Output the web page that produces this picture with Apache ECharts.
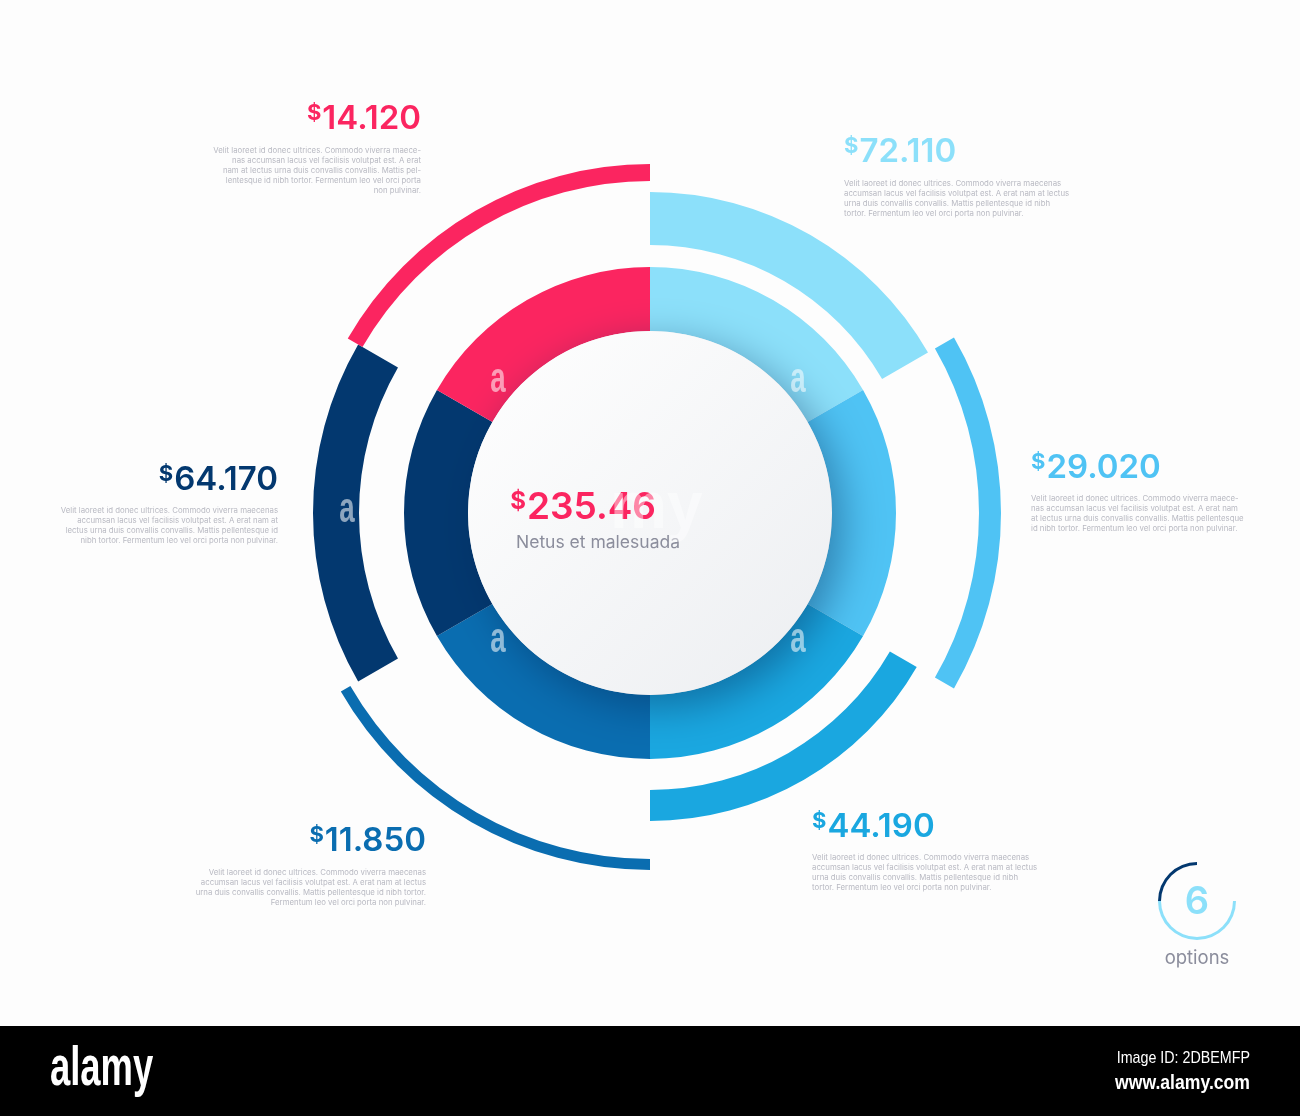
<!DOCTYPE html>
<html>
<head>
<meta charset="utf-8">
<title>Pie infographic</title>
<script src="https://cdn.jsdelivr.net/npm/echarts@6/dist/echarts.min.js"></script>
<style>
  html, body { margin: 0; padding: 0; background: #fdfdfd; }
  #chart { width: 1300px; height: 1116px; }
</style>
</head>
<body>
<div id="chart"></div>
<script>
// clockwise from twelve o'clock
const SLICE_AMOUNTS = ["72.110", "29.020", "44.190", "11.850", "64.170", "14.120"];
const SLICE_SPANS = [60, 60, 60, 60, 60, 60];
const SLICE_COLORS = ["#8ce0fa", "#4fc3f4", "#1aa7e0", "#0a6db0", "#03386f", "#fb2560"];
const ARC_RADII = [[268, 321], [329, 351], [277, 308], [346, 357], [291, 337], [332, 349]];

const TOTAL_AMOUNT = "235.46";
const TOTAL_LABEL = "Netus et malesuada";
const OPTION_COUNT = "6";
const OPTION_LABEL = "options";
const OPTION_RING_SPANS = [90, 180, 90];
const OPTION_RING_COLORS = ["transparent", "#8ce0fa", "#03386f"];

const NOTE_72 = [
  "Velit laoreet id donec ultrices. Commodo viverra maecenas",
  "accumsan lacus vel facilisis volutpat est. A erat nam at lectus",
  "urna duis convallis convallis. Mattis pellentesque id nibh",
  "tortor. Fermentum leo vel orci porta non pulvinar."
];
const NOTE_29 = [
  "Velit laoreet id donec ultrices. Commodo viverra maece-",
  "nas accumsan lacus vel facilisis volutpat est. A erat nam",
  "at lectus urna duis convallis convallis. Mattis pellentesque",
  "id nibh tortor. Fermentum leo vel orci porta non pulvinar."
];
const NOTE_44 = [
  "Velit laoreet id donec ultrices. Commodo viverra maecenas",
  "accumsan lacus vel facilisis volutpat est. A erat nam at lectus",
  "urna duis convallis convallis. Mattis pellentesque id nibh",
  "tortor. Fermentum leo vel orci porta non pulvinar."
];
const NOTE_11 = [
  "Velit laoreet id donec ultrices. Commodo viverra maecenas",
  "accumsan lacus vel facilisis volutpat est. A erat nam at lectus",
  "urna duis convallis convallis. Mattis pellentesque id nibh tortor.",
  "Fermentum leo vel orci porta non pulvinar."
];
const NOTE_64 = [
  "Velit laoreet id donec ultrices. Commodo viverra maecenas",
  "accumsan lacus vel facilisis volutpat est. A erat nam at",
  "lectus urna duis convallis convallis. Mattis pellentesque id",
  "nibh tortor. Fermentum leo vel orci porta non pulvinar."
];
const NOTE_14 = [
  "Velit laoreet id donec ultrices. Commodo viverra maece-",
  "nas accumsan lacus vel facilisis volutpat est. A erat",
  "nam at lectus urna duis convallis convallis. Mattis pel-",
  "lentesque id nibh tortor. Fermentum leo vel orci porta",
  "non pulvinar."
];
const SLICE_NOTES = [NOTE_72, NOTE_29, NOTE_44, NOTE_11, NOTE_64, NOTE_14];

const CENTER = [650, 513];
const FONT = "Inter, Roboto, sans-serif";
const LOGO_FONT = "'Liberation Sans', sans-serif";
const NOTE_COLOR = "#b8b9c2";
const NOTE_LEADING = 9.8;

// x, y of the amount text and y of the first note line, same order as the slices
const CALLOUTS = [
  { x: 844, y: 152, noteY: 184, align: "left" },
  { x: 1031, y: 468, noteY: 499, align: "left" },
  { x: 812, y: 827, noteY: 858, align: "left" },
  { x: 426, y: 841, noteY: 873, align: "right" },
  { x: 278, y: 480, noteY: 511, align: "right" },
  { x: 421, y: 119, noteY: 151, align: "right" }
];

function baseSlices(spans) {
  return spans.map((span, i) => ({ value: span, name: "slice" + i }));
}

function pieSeries(radius, center, data, extra) {
  return Object.assign({
    type: "pie",
    center,
    radius,
    startAngle: 90,
    silent: true,
    animation: false,
    label: { show: false },
    labelLine: { show: false },
    emphasis: { disabled: true },
    data
  }, extra || {});
}

function amountText(amount, color, x, y, align, size, dollarSize) {
  return {
    type: "text",
    z: 20,
    x,
    y,
    silent: true,
    style: {
      text: "{d|$}{v|" + amount + "}",
      align,
      verticalAlign: "middle",
      rich: {
        d: { fontFamily: FONT, fontSize: dollarSize, fontWeight: 700, fill: color, color, verticalAlign: "top", padding: [0, 1, 0, 0] },
        v: { fontFamily: FONT, fontSize: size, fontWeight: 600, fill: color, color }
      }
    }
  };
}

function plainText(text, x, y, size, color, align, font, weight, extra) {
  return Object.assign({
    type: "text",
    z: 20,
    x,
    y,
    silent: true,
    style: {
      text,
      fontFamily: font || FONT,
      fontSize: size,
      fontWeight: weight || 400,
      fill: color,
      align: align || "left",
      verticalAlign: "middle"
    }
  }, extra || {});
}

function buildSeries() {
  const series = [];

  // inner ring
  series.push(pieSeries([182, 246], CENTER, SLICE_SPANS.map((span, i) => ({
    value: span,
    name: SLICE_AMOUNTS[i],
    itemStyle: { color: SLICE_COLORS[i] }
  })), { z: 2 }));

  // outer arcs, each one its own radius
  SLICE_SPANS.forEach((span, i) => {
    const data = baseSlices(SLICE_SPANS).map((item, j) => ({
      value: item.value,
      name: item.name,
      itemStyle: { color: j === i ? SLICE_COLORS[i] : "transparent" }
    }));
    series.push(pieSeries(ARC_RADII[i], CENTER, data, { z: 2 }));
  });

  // center disc with the soft shadow falling on the ring
  series.push(pieSeries([0, 182], CENTER, [{
    value: 1,
    name: "disc",
    itemStyle: {
      color: new echarts.graphic.LinearGradient(0, 0, 1, 1, [
        { offset: 0, color: "#ffffff" },
        { offset: 1, color: "#eceef1" }
      ]),
      shadowBlur: 42,
      shadowOffsetX: 10,
      shadowOffsetY: 12,
      shadowColor: "rgba(0, 35, 80, 0.42)"
    }
  }], { z: 3 }));

  // small ring beside "6 options"
  series.push(pieSeries([36, 39], [1197, 901], OPTION_RING_SPANS.map((span, i) => ({
    value: span,
    name: "ring" + i,
    itemStyle: { color: OPTION_RING_COLORS[i] }
  })), { z: 2 }));

  return series;
}

function buildGraphic() {
  const items = [];

  CALLOUTS.forEach((c, i) => {
    items.push(amountText(SLICE_AMOUNTS[i], SLICE_COLORS[i], c.x, c.y, c.align, 33, 22));
    SLICE_NOTES[i].forEach((line, n) => {
      items.push(plainText(line, c.x, c.noteY + n * NOTE_LEADING, 7.8, NOTE_COLOR, c.align));
    });
  });

  items.push(amountText(TOTAL_AMOUNT, "#fb2560", 656, 508, "right", 37, 24));
  items.push(plainText(TOTAL_LABEL, 598, 543, 17.5, "#8b8d9c", "center"));

  items.push(plainText(OPTION_COUNT, 1197, 903, 38, "#8ce0fa", "center", FONT, 600));
  items.push(plainText(OPTION_LABEL, 1197, 958, 18.5, "#8b8d9c", "center"));

  // stock photo watermark left on the picture
  [[498, 380], [798, 380], [347, 510], [498, 640], [798, 640]].forEach(p => {
    items.push(plainText("a", p[0], p[1], 42, "rgba(255,255,255,0.55)", "center", LOGO_FONT, 700, { z: 25, scaleX: 0.66 }));
  });
  items.push(plainText("my", 610, 510, 66, "rgba(255,255,255,0.45)", "left", LOGO_FONT, 700, { z: 25, scaleX: 0.97 }));

  // black footer band
  items.push({
    type: "rect",
    z: 10,
    silent: true,
    shape: { x: 0, y: 1026, width: 1300, height: 90 },
    style: { fill: "#000000" }
  });
  items.push(plainText("alamy", 50, 1070, 56, "#ffffff", "left", LOGO_FONT, 700, { scaleX: 0.65 }));
  items.push(plainText("Image ID: 2DBEMFP", 1250, 1058, 17, "#ffffff", "right", LOGO_FONT, 400, { scaleX: 0.84 }));
  items.push(plainText("www.alamy.com", 1250, 1083, 20, "#ffffff", "right", LOGO_FONT, 700, { scaleX: 0.88 }));

  return items;
}

const chart = echarts.init(document.getElementById("chart"));

chart.setOption({
  animation: false,
  backgroundColor: "#fdfdfd",
  tooltip: { show: false },
  series: buildSeries(),
  graphic: buildGraphic()
});
</script>
</body>
</html>
